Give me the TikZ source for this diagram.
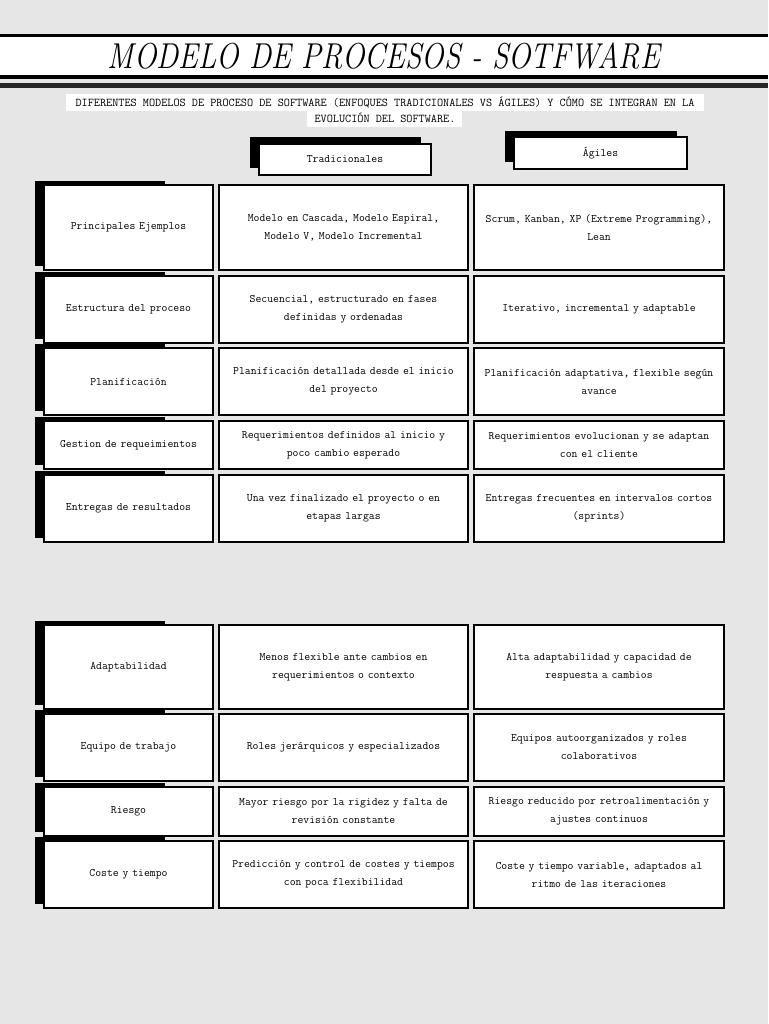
\documentclass[tikz,border=0pt]{standalone}
\usepackage{fontspec}
\setmonofont{Latin Modern Mono}
\tikzset{x=1pt,y=-1pt,
 cell/.style={draw=black,line width=1.2pt,fill=white,align=center,inner xsep=2pt,font=\ttfamily\fontsize{11.4}{18}\selectfont},
 shadowbox/.style={fill=black}}
\newcommand{\myrow}[6]{% name, top, bottom, c1, c2, c3
 \fill (35,#2-4) rectangle (165,#3-4);
 \node[cell,minimum width=169pt,minimum height=#3-#2,text width=163pt] (#1a) at (128.5,{(#2+#3)/2}) {#4};
 \node[cell,minimum width=249pt,minimum height=#3-#2,text width=243pt] (#1b) at (343.5,{(#2+#3)/2}) {#5};
 \node[cell,minimum width=250pt,minimum height=#3-#2,text width=244pt] (#1c) at (599,{(#2+#3)/2}) {#6};}
\begin{document}
\begin{tikzpicture}
\useasboundingbox[fill={rgb,255:red,230;green,230;blue,230}] (0,0) rectangle (768,1024);
\fill (0,34) rectangle (768,37);
\fill[white] (0,37) rectangle (768,75);
\fill (0,75) rectangle (768,79);
\fill[black!85] (0,83) rectangle (768,88);
\node (title) at (384,56) {\scalebox{0.83}[1]{\fontsize{36}{40}\selectfont\itshape MODELO DE PROCESOS - SOTFWARE}};
\fill[white] (66,94) rectangle (704,111);
\fill[white] (307,111) rectangle (462,127);
\node[font=\ttfamily\fontsize{11.9}{16}\selectfont,align=center] (sub) at (385,110) {DIFERENTES MODELOS DE PROCESO DE SOFTWARE (ENFOQUES TRADICIONALES VS ÁGILES) Y CÓMO SE INTEGRAN EN LA\\EVOLUCIÓN DEL SOFTWARE.};
\fill (250,137) rectangle (421,168);
\node[cell,minimum width=172pt,minimum height=31pt] (trad) at (345,159.5) {Tradicionales};
\fill (505,131) rectangle (677,162);
\node[cell,minimum width=173pt,minimum height=32pt] (agil) at (600.5,153) {Ágiles};
\myrow{r1}{185}{270}{Principales Ejemplos}{Modelo en Cascada, Modelo Espiral,\\Modelo V, Modelo Incremental}{Scrum, Kanban, XP (Extreme Programming),\\Lean}
\myrow{r2}{276}{343}{Estructura del proceso}{Secuencial, estructurado en fases\\definidas y ordenadas}{Iterativo, incremental y adaptable}
\myrow{r3}{348}{415}{Planificación}{Planificación detallada desde el inicio\\del proyecto}{Planificación adaptativa, flexible según\\avance}
\myrow{r4}{421}{469}{Gestion de requeimientos}{Requerimientos definidos al inicio y\\poco cambio esperado}{Requerimientos evolucionan y se adaptan\\con el cliente}
\myrow{r5}{475}{542}{Entregas de resultados}{Una vez finalizado el proyecto o en\\etapas largas}{Entregas frecuentes en intervalos cortos\\(sprints)}
\myrow{r6}{625}{709}{Adaptabilidad}{Menos flexible ante cambios en\\requerimientos o contexto}{Alta adaptabilidad y capacidad de\\respuesta a cambios}
\myrow{r7}{714}{781}{Equipo de trabajo}{Roles jerárquicos y especializados}{Equipos autoorganizados y roles\\colaborativos}
\myrow{r8}{787}{836}{Riesgo}{Mayor riesgo por la rigidez y falta de\\revisión constante}{Riesgo reducido por retroalimentación y\\ajustes continuos}
\myrow{r9}{841}{908}{Coste y tiempo}{Predicción y control de costes y tiempos\\con poca flexibilidad}{Coste y tiempo variable, adaptados al\\ritmo de las iteraciones}
\end{tikzpicture}
\end{document}
